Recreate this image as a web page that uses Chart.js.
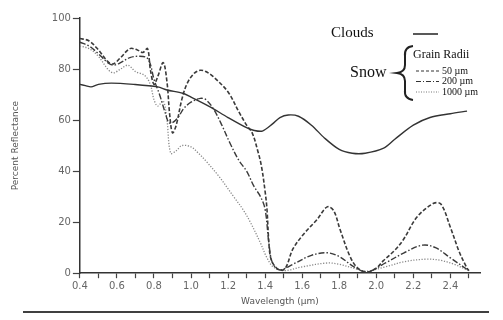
<!DOCTYPE html>
<html>
<head>
<meta charset="utf-8">
<script src="https://cdn.jsdelivr.net/npm/chart.js@4/dist/chart.umd.min.js"></script>
<style>
  html, body { margin: 0; padding: 0; background: #fff; }
  #wrap { width: 503px; height: 320px; }
</style>
</head>
<body>
<div id="wrap"><canvas id="myChart"></canvas></div>
<script>
// wavelength (um) and percent reflectance
const cloudWl  = [0.40, 0.43, 0.46, 0.50, 0.57, 0.69, 0.82, 0.87, 0.955, 1.00, 1.095, 1.20, 1.30, 1.337, 1.385, 1.44, 1.48, 1.525, 1.58, 1.65, 1.72, 1.80, 1.87, 1.94, 2.04, 2.10, 2.20, 2.29, 2.40, 2.49];
const cloudPct = [74, 73.5, 73, 74, 74.5, 74, 73, 71.8, 70.5, 69, 65.5, 61, 57, 56, 55.7, 58.5, 61, 62, 61.5, 58, 53, 48.5, 47, 47, 49, 52.5, 58, 61, 62.5, 63.5];

const snow50Wl  = [0.40, 0.45, 0.50, 0.55, 0.58, 0.62, 0.67, 0.71, 0.74, 0.765, 0.78, 0.80, 0.82, 0.85, 0.87, 0.885, 0.90, 0.92, 0.95, 0.98, 1.02, 1.05, 1.08, 1.12, 1.20, 1.26, 1.30, 1.33, 1.36, 1.38, 1.40, 1.41, 1.42, 1.43, 1.45, 1.48, 1.51, 1.55, 1.61, 1.68, 1.735, 1.77, 1.805, 1.86, 1.90, 1.95, 2.00, 2.04, 2.10, 2.145, 2.22, 2.31, 2.35, 2.40, 2.45, 2.49, 2.50];
const snow50Pct = [92, 91, 87.5, 83, 82, 84.5, 88, 87.5, 86.5, 88, 80, 74, 77, 82.5, 75, 62, 55, 58, 68, 74.5, 78.5, 79.5, 79, 77, 71, 63, 58, 55, 48, 42, 32, 25, 12, 6, 3, 1.2, 2, 9.5, 15.5, 21, 26, 24.5, 17, 6.3, 2, 0.5, 2, 5, 9, 13, 22, 27.4, 27, 18, 8, 2, 1];

const snow200Wl  = [0.40, 0.45, 0.50, 0.55, 0.58, 0.62, 0.67, 0.72, 0.76, 0.78, 0.80, 0.83, 0.86, 0.88, 0.90, 0.93, 0.96, 1.00, 1.05, 1.08, 1.12, 1.16, 1.21, 1.26, 1.30, 1.34, 1.375, 1.40, 1.42, 1.44, 1.48, 1.55, 1.65, 1.735, 1.80, 1.88, 1.95, 2.05, 2.15, 2.25, 2.32, 2.40, 2.50];
const snow200Pct = [90.5, 89, 86, 82.5, 81.5, 82.5, 84.5, 85, 84.5, 82, 76, 70, 63, 59, 59, 61, 64.5, 67, 68.5, 68, 64.5, 59, 51, 44, 40, 34, 30, 25, 12, 4, 1.3, 3.5, 7, 8, 6.5, 2.5, 0.5, 4, 8, 11, 10, 6, 1];

const snow1000Wl  = [0.40, 0.45, 0.50, 0.55, 0.58, 0.62, 0.66, 0.70, 0.75, 0.78, 0.80, 0.82, 0.85, 0.87, 0.89, 0.92, 0.95, 1.00, 1.04, 1.08, 1.15, 1.23, 1.28, 1.32, 1.375, 1.41, 1.445, 1.50, 1.60, 1.735, 1.80, 1.90, 1.95, 2.05, 2.15, 2.27, 2.35, 2.42, 2.50];
const snow1000Pct = [89, 88, 85, 80, 78.5, 80, 81.5, 79, 77.5, 74, 68, 65.5, 67.5, 60, 47, 48, 50, 49.5, 47, 44, 38, 30, 25, 20, 11.8, 6, 2.4, 1, 2.5, 4, 3.5, 1.5, 0.8, 2.5, 4.5, 5.5, 5, 3.5, 1];

const yTicks = [0, 20, 40, 60, 80, 100];
const xLabels = [0.4, 0.6, 0.8, 1.0, 1.2, 1.4, 1.6, 1.8, 2.0, 2.2, 2.4];

const toPoints = (wl, pct) => wl.map((w, i) => ({ x: w, y: pct[i] }));

// legend, brace and the rule under the figure
const extras = {
  id: "extras",
  afterDraw(chart) {
    const c = chart.ctx;
    c.save();
    c.fillStyle = "#111";
    c.strokeStyle = "#222";
    c.textBaseline = "middle";

    c.font = "15px 'Liberation Serif'";
    c.fillText("Clouds", 331, 33);
    c.lineWidth = 1.5;
    c.beginPath(); c.moveTo(413, 34); c.lineTo(438, 34); c.stroke();

    c.font = "16px 'Liberation Serif'";
    c.fillText("Snow", 350, 73);

    // curly brace
    c.lineWidth = 2;
    c.beginPath();
    c.moveTo(413, 46);
    c.quadraticCurveTo(404, 47, 405, 56);
    c.lineTo(405, 65);
    c.quadraticCurveTo(405, 72, 397, 73);
    c.quadraticCurveTo(405, 74, 405, 81);
    c.lineTo(405, 90);
    c.quadraticCurveTo(404, 99, 413, 100);
    c.stroke();

    c.font = "12px 'Liberation Serif'";
    c.fillText("Grain Radii", 413, 55);

    const rows = [
      ["50 \u00b5m", [3, 2]],
      ["200 \u00b5m", [5, 2, 1, 2]],
      ["1000 \u00b5m", [1, 1.5]]
    ];
    c.font = "10px 'Liberation Serif'";
    rows.forEach((r, i) => {
      const y = 71 + i * 10.5;
      c.lineWidth = 1;
      c.strokeStyle = i == 2 ? "#777" : "#333";
      c.setLineDash(r[1]);
      c.beginPath(); c.moveTo(416, y); c.lineTo(439, y); c.stroke();
      c.setLineDash([]);
      c.fillText(r[0], 442, y);
    });

    c.strokeStyle = "#000";
    c.lineWidth = 1.5;
    c.beginPath(); c.moveTo(23, 312); c.lineTo(489, 312); c.stroke();
    c.restore();
  }
};

const ctx = document.getElementById("myChart").getContext("2d");
const myChart = new Chart(ctx, {
  type: "line",
  data: {
    datasets: [
      {
        label: "Clouds",
        data: toPoints(cloudWl, cloudPct),
        borderColor: "#333",
        borderWidth: 1.4,
        tension: 0.3
      },
      {
        label: "50 um",
        data: toPoints(snow50Wl, snow50Pct),
        borderColor: "#3a3a3a",
        borderWidth: 1.6,
        borderDash: [4, 2],
        tension: 0.35
      },
      {
        label: "200 um",
        data: toPoints(snow200Wl, snow200Pct),
        borderColor: "#3a3a3a",
        borderWidth: 1.4,
        borderDash: [6, 2, 1.5, 2],
        tension: 0.35
      },
      {
        label: "1000 um",
        data: toPoints(snow1000Wl, snow1000Pct),
        borderColor: "#888",
        borderWidth: 1.3,
        borderDash: [1.2, 1.6],
        tension: 0.35
      }
    ]
  },
  options: {
    responsive: true,
    maintainAspectRatio: false,
    animation: false,
    elements: { point: { radius: 0 } },
    layout: { padding: { top: 18, right: 23, bottom: 9, left: 6 } },
    plugins: { legend: { display: false }, tooltip: { enabled: false } },
    scales: {
      x: {
        type: "linear",
        min: 0.4,
        max: 2.56,
        afterBuildTicks: axis => {
          const t = [];
          for (let i = 4; i <= 25; i++) t.push({ value: i / 10 });
          axis.ticks = t;
        },
        grid: { display: true, drawOnChartArea: false, tickLength: 5, color: "#444", tickWidth: 1.2 },
        border: { color: "#333", width: 1.5 },
        ticks: {
          color: "#666",
          font: { family: "DejaVu Sans", size: 10 },
          padding: 2,
          maxRotation: 0,
          autoSkip: false,
          callback: v => xLabels.some(l => Math.abs(l - v) < 1e-6) ? v.toFixed(1) : ""
        },
        title: { display: true, text: "Wavelength (\u00b5m)", color: "#555", font: { family: "DejaVu Sans", size: 9 }, padding: { top: 2 } }
      },
      y: {
        min: 0,
        max: 100,
        afterBuildTicks: axis => { axis.ticks = yTicks.map(v => ({ value: v })); },
        grid: { display: true, drawOnChartArea: false, tickLength: 7, color: "#444", tickWidth: 1.2 },
        border: { color: "#333", width: 1.5 },
        ticks: { color: "#666", font: { family: "DejaVu Sans", size: 10 }, padding: 2 },
        title: { display: true, text: "Percent Reflectance", color: "#555", font: { family: "DejaVu Sans", size: 9 }, padding: { bottom: 29 } }
      }
    }
  },
  plugins: [extras]
});
</script>
</body>
</html>
